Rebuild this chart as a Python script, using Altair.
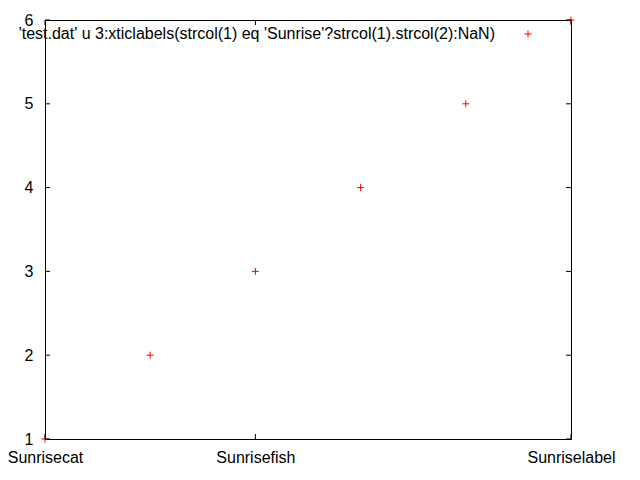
import altair as alt
import pandas as pd

# data
idx = [0, 1, 2, 3, 4, 5]
values = [1, 2, 3, 4, 5, 6]
tick_pos = [0, 2, 5]
tick_labels = ["Sunrisecat", "Sunrisefish", "Sunriselabel"]
y_ticks = [1, 2, 3, 4, 5, 6]
legend_label = "'test.dat' u 3:xticlabels(strcol(1) eq 'Sunrise'?strcol(1).strcol(2):NaN)"

W, H = 526, 419
FONT = "Liberation Sans"
FS = 16
RED = "#ff0000"
PLUS = "M-1,0L1,0M0,-1L0,1"

df = pd.DataFrame({"x": idx, "y": values})
xt = pd.DataFrame({"x": tick_pos, "label": tick_labels})
yt = pd.DataFrame({"y": y_ticks})

expr = " : ".join(
    f"datum.value == {p} ? '{l}'" for p, l in zip(tick_pos, tick_labels)
) + " : ''"

xscale = alt.Scale(domain=[0, 5], nice=False, zero=False)
yscale = alt.Scale(domain=[1, 6], nice=False, zero=False)

xaxis = alt.Axis(values=tick_pos, labelExpr=expr, ticks=False, domain=False, grid=False,
                 labelFlush=False, labelOverlap=False, labelPadding=10, title=None,
                 labelFont=FONT, labelFontSize=FS, labelColor="black")
yaxis = alt.Axis(values=y_ticks, format="d", ticks=False, domain=False, grid=False,
                 labelFlush=False, labelOverlap=False, labelPadding=12, title=None,
                 labelFont=FONT, labelFontSize=FS, labelColor="black")

points = alt.Chart(df).mark_point(shape=PLUS, size=49, filled=False, color=RED, strokeWidth=1, opacity=1).encode(
    x=alt.X("x:Q", scale=xscale, axis=xaxis),
    y=alt.Y("y:Q", scale=yscale, axis=yaxis),
)

ytick_l = alt.Chart(yt).mark_rule(color="black", strokeWidth=1).encode(
    y=alt.Y("y:Q", scale=yscale), x=alt.value(0), x2=alt.value(5))
ytick_r = alt.Chart(yt).mark_rule(color="black", strokeWidth=1).encode(
    y=alt.Y("y:Q", scale=yscale), x=alt.value(W - 5), x2=alt.value(W))
xtick_b = alt.Chart(xt).mark_rule(color="black", strokeWidth=1).encode(
    x=alt.X("x:Q", scale=xscale), y=alt.value(H - 5), y2=alt.value(H))
xtick_t = alt.Chart(xt).mark_rule(color="black", strokeWidth=1).encode(
    x=alt.X("x:Q", scale=xscale), y=alt.value(0), y2=alt.value(5))

leg_text = alt.Chart(pd.DataFrame({"t": [legend_label]})).mark_text(
    align="right", baseline="middle", font=FONT, fontSize=FS, color="black").encode(
    x=alt.value(450), y=alt.value(14), text="t:N")
leg_pt = alt.Chart(pd.DataFrame({"t": [legend_label]})).mark_point(
    shape=PLUS, size=49, filled=False, color=RED, strokeWidth=1, opacity=1).encode(
    x=alt.value(483), y=alt.value(14))

chart = alt.layer(points, ytick_l, ytick_r, xtick_b, xtick_t, leg_text, leg_pt).properties(
    width=W, height=H,
    autosize=alt.AutoSizeParams(type="none"),
    padding={"left": 37, "top": 12, "right": 50, "bottom": 40},
    background="white",
).configure_view(stroke="black", strokeWidth=1)

chart.save("out.html", embed_options={"renderer": "svg", "actions": False})
